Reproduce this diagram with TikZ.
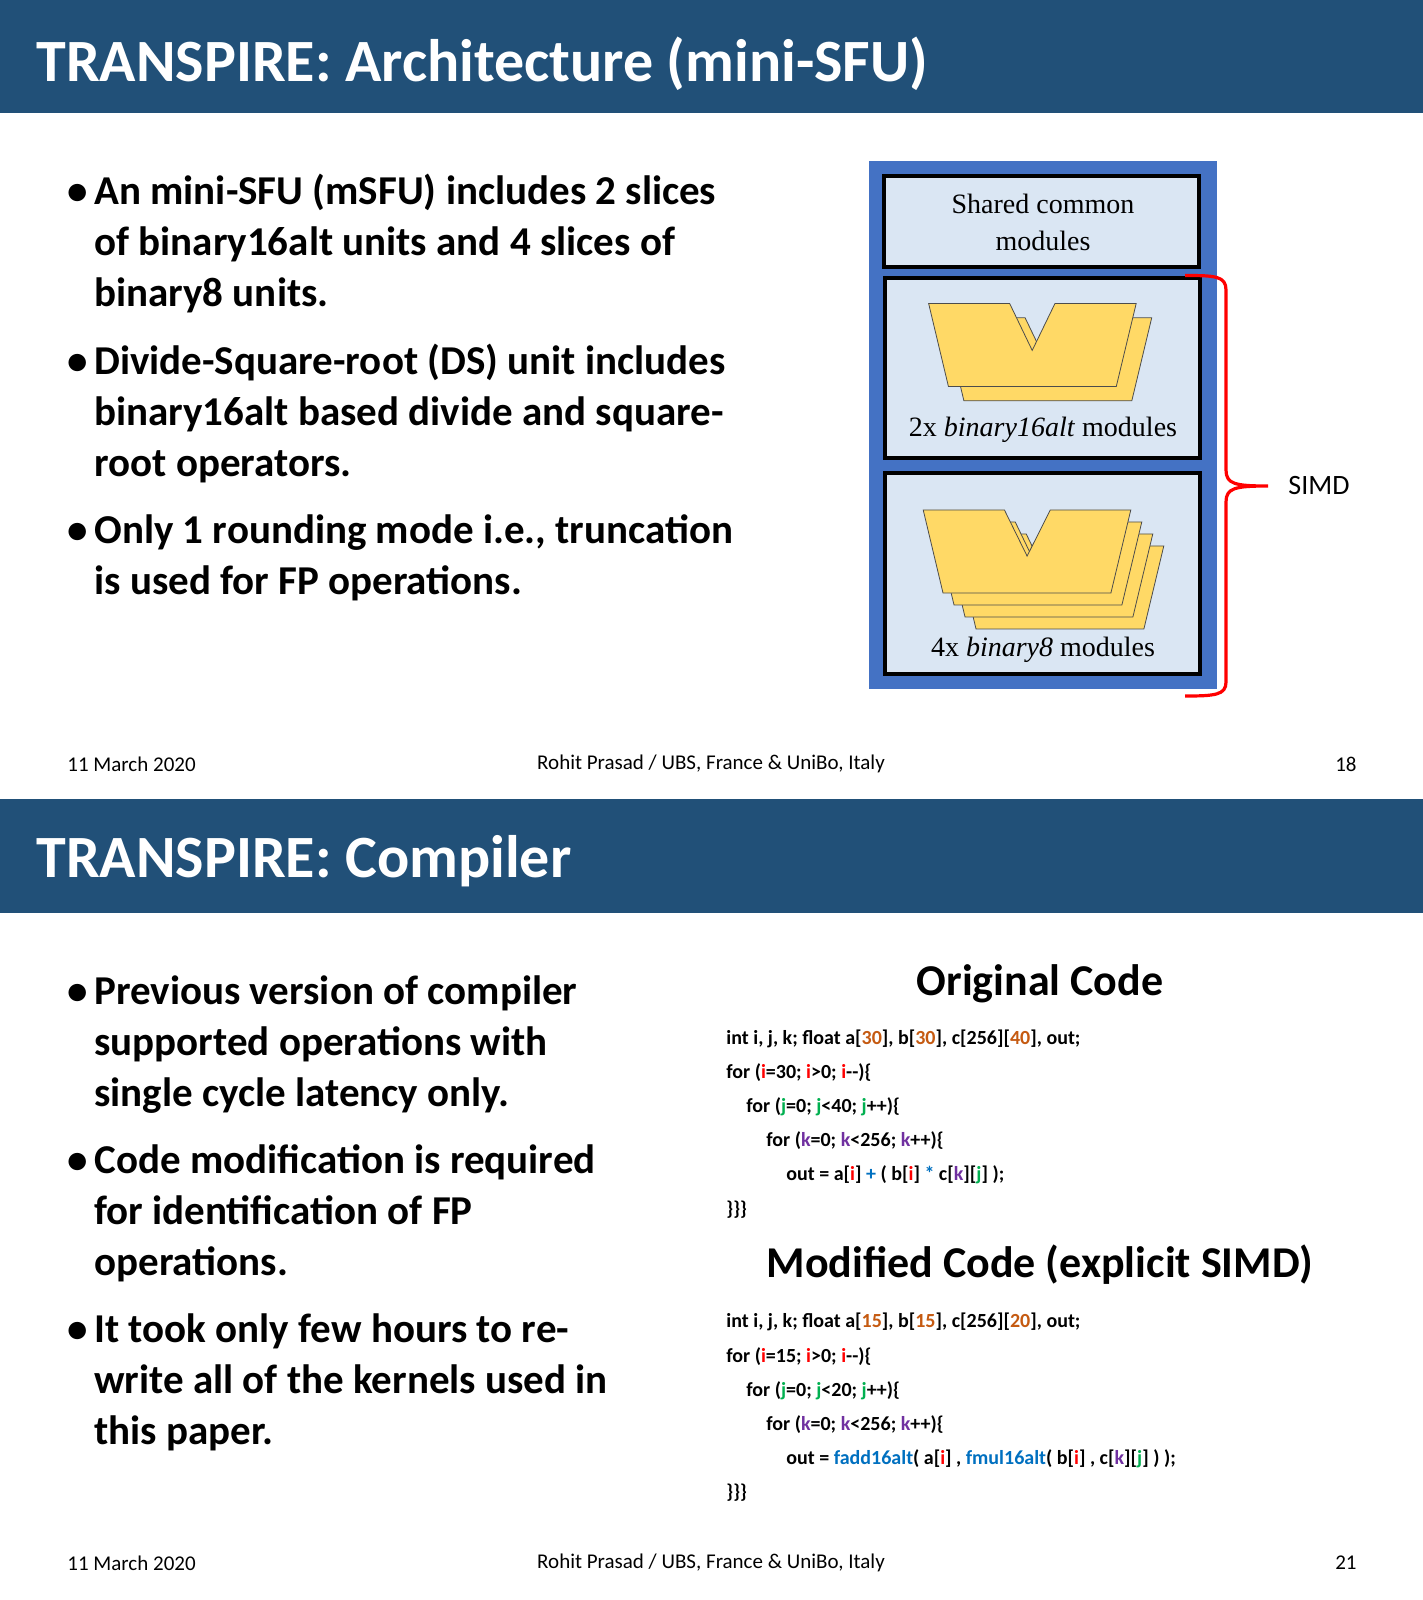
\documentclass[tikz,border=0pt]{standalone}
\usepackage{fontspec}
\setmainfont{Carlito}
\newfontfamily\tms{Liberation Serif}
\definecolor{band}{HTML}{215078}
\definecolor{bluebox}{HTML}{4472C4}
\definecolor{lightb}{HTML}{DAE6F3}
\definecolor{yel}{HTML}{FFD966}
\definecolor{co}{HTML}{C55A11}
\definecolor{cr}{HTML}{FF0000}
\definecolor{cg}{HTML}{00B050}
\definecolor{cp}{HTML}{7030A0}
\definecolor{cb}{HTML}{0070C0}
\newcommand{\I}{\textcolor{cr}{i}}
\newcommand{\J}{\textcolor{cg}{j}}
\newcommand{\K}{\textcolor{cp}{k}}
\begin{document}
\begin{tikzpicture}[x=0.5pt,y=-0.5pt,
  ttl/.style={anchor=base west,text=white,font=\fontsize{30}{36}\selectfont\bfseries,inner sep=0},
  bul/.style={anchor=base west,font=\fontsize{20.5}{25.5}\selectfont\bfseries,inner sep=0,align=left},
  foot/.style={font=\fontsize{10.5}{12}\selectfont,inner sep=0},
  code/.style={anchor=west,font=\fontsize{10}{12}\selectfont\bfseries,inner sep=0},
  head/.style={font=\fontsize{22}{26}\selectfont\bfseries,inner sep=0},
  inner/.style={draw=black,line width=2pt,fill=lightb},
  serif/.style={font=\tms\fontsize{14}{17}\selectfont,inner sep=0},
  yshape/.style={fill=yel,draw=black!70,line width=0.4pt}]
\useasboundingbox (0,0) rectangle (1423,1600);
\fill[white] (0,0) rectangle (1423,1600);
% slide 1
\fill[band] (0,0) rectangle (1423,113);
\node[ttl] (t1) at (36,82) {TRANSPIRE: Architecture (mini-SFU)};
\foreach \y/\b/\t in {204/1/An mini-SFU (mSFU) includes 2 slices,255/0/of binary16alt units and 4 slices of,306/0/binary8 units.,374/1/Divide-Square-root (DS) unit includes,425/0/binary16alt based divide and square-,476/0/root operators.,543/1/Only 1 rounding mode i.e.{,} truncation,594/0/is used for FP operations.}{
  \node[bul] at (94,\y) {\t};
  \ifnum\b=1 \node[bul] at (67,\y) {•};\fi
}
\node[foot,anchor=west] (d1) at (67,764) {11 March 2020};
\node[foot] (a1) at (711,764) {Rohit Prasad / UBS, France \& UniBo, Italy};
\node[foot,anchor=east] (p1) at (1357,764) {18};
% diagram
\fill[bluebox] (869,161) rectangle (1217,689);
\draw[inner] (884,176) rectangle (1199,267);
\draw[inner] (885,278) rectangle (1200,458);
\draw[inner] (885,473) rectangle (1200,674);
\node[serif] (s1) at (1043,204) {Shared common};
\node[serif] (s2) at (1043,241) {modules};
\node[serif] (s3) at (1043,430) {2x \textit{binary16alt} modules};
\node[serif] (s4) at (1043,650) {4x \textit{binary8} modules};
\def\shp#1#2#3{\draw[yshape,shift={(#1,#2)}] (0,0) -- (81,0) -- (103.6,47) -- (126.4,0) -- (207.6,0) -- (187.7,83) -- (19.8,83) -- cycle;}
\shp{944.1}{317.8}{}
\shp{928.6}{303.4}{}
\shp{956.2}{545.9}{}
\shp{945.2}{533.9}{}
\shp{934.2}{521.9}{}
\begin{scope}[shift={(923.2,509.9)}]
\draw[yshape] (0,0) -- (81.2,0) -- (103.9,46.2) -- (127.1,0) -- (207.6,0) -- (187.7,83.1) -- (19.8,83.1) -- cycle;
\end{scope}
\draw[red,line width=1.6pt] (1185,275.5) .. controls (1215,275.5) and (1226,276) .. (1226,290) -- (1226,470) .. controls (1226,484) and (1235,486) .. (1268,486)
  (1268,486) .. controls (1235,486) and (1226,488) .. (1226,502) -- (1226,682) .. controls (1226,695) and (1215,696) .. (1185,696);
\node[font=\fontsize{14}{17}\selectfont,anchor=west,inner sep=0] (simd) at (1288,486) {SIMD};
% slide 2
\fill[band] (0,799) rectangle (1423,913);
\node[ttl] (t2) at (36,877) {TRANSPIRE: Compiler};
\foreach \y/\b/\t in {1004/1/Previous version of compiler,1055/0/supported operations with,1106/0/single cycle latency only.,1173/1/Code modification is required,1224/0/for identification of FP,1275/0/operations.,1342/1/It took only few hours to re-,1393/0/write all of the kernels used in,1444/0/this paper.}{
  \node[bul] at (94,\y) {\t};
  \ifnum\b=1 \node[bul] at (67,\y) {•};\fi
}
\node[head] (h1) at (1040,984) {Original Code};
\node[head] (h2) at (1040,1265) {Modified Code (explicit SIMD)};
\node[code] (c1) at (726,1039) {int i, j, k; float a[\textcolor{co}{30}], b[\textcolor{co}{30}], c[256][\textcolor{co}{40}], out;};
\node[code] (c2) at (726,1073) {for (\I=30; \I>0; \I{}-{}-)\{};
\node[code] (c3) at (746,1107) {for (\J=0; \J<40; \J++)\{};
\node[code] (c4) at (766,1141) {for (\K=0; \K<256; \K++)\{};
\node[code] (c5) at (786,1175) {out = a[\I] \textcolor{cb}{+} ( b[\I] \textcolor{cb}{*} c[\K][\J] );};
\node[code] (c6) at (726,1210) {\}\}\}};
\node[code] (m1) at (726,1322) {int i, j, k; float a[\textcolor{co}{15}], b[\textcolor{co}{15}], c[256][\textcolor{co}{20}], out;};
\node[code] (m2) at (726,1357) {for (\I=15; \I>0; \I{}-{}-)\{};
\node[code] (m3) at (746,1391) {for (\J=0; \J<20; \J++)\{};
\node[code] (m4) at (766,1425) {for (\K=0; \K<256; \K++)\{};
\node[code] (m5) at (786,1459) {out = \textcolor{cb}{fadd16alt}( a[\I] , \textcolor{cb}{fmul16alt}( b[\I] , c[\K][\J] ) );};
\node[code] (m6) at (726,1493) {\}\}\}};
\node[foot,anchor=west] (d2) at (67,1563) {11 March 2020};
\node[foot] (a2) at (711,1563) {Rohit Prasad / UBS, France \& UniBo, Italy};
\node[foot,anchor=east] (p2) at (1357,1563) {21};
\end{tikzpicture}
\end{document}
